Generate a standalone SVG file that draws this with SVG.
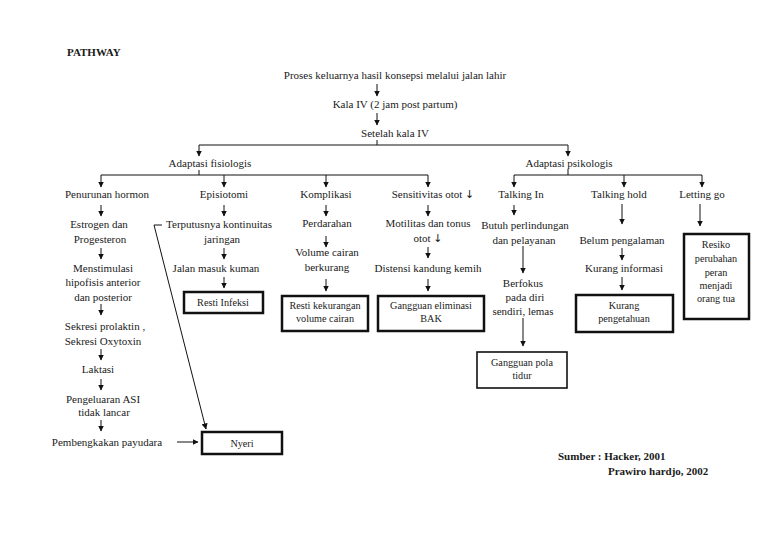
<svg xmlns="http://www.w3.org/2000/svg" width="768" height="543" viewBox="0 0 768 543">
<style>
text{font-family:"Liberation Serif","Times New Roman",serif;font-size:11px;fill:#1a1a1a;text-anchor:middle}
.b{font-weight:bold;text-anchor:start}
.s{font-size:10.2px}
.dn{font-family:"DejaVu Sans",sans-serif;font-size:11px}
.ln{stroke:#111;stroke-width:1;fill:none}
.ar{stroke:#111;stroke-width:1;fill:none;marker-end:url(#ah)}
.bx{fill:#fff;stroke:#111;stroke-width:2.5}
.bt{fill:#fff;stroke:#111;stroke-width:1.6}
</style>
<defs>
<marker id="ah" markerUnits="userSpaceOnUse" markerWidth="6" markerHeight="6" refX="5.5" refY="3" orient="auto">
<path d="M0,0 L6,3 L0,6 z" fill="#111"/>
</marker>
</defs>
<rect width="768" height="543" fill="#fff"/>
<text class="b" x="67" y="56">PATHWAY</text>
<g id="connectors">
<line class="ar" x1="377" y1="84" x2="377" y2="96"/>
<line class="ar" x1="377" y1="113" x2="377" y2="125"/>
<line class="ln" x1="377" y1="140" x2="377" y2="145"/>
<line class="ln" x1="199" y1="145" x2="568" y2="145"/>
<line class="ar" x1="199" y1="145" x2="199" y2="156"/>
<line class="ar" x1="568" y1="145" x2="568" y2="156"/>
<line class="ln" x1="199" y1="170" x2="199" y2="175"/>
<line class="ln" x1="101" y1="175" x2="428" y2="175"/>
<line class="ar" x1="101" y1="175" x2="101" y2="187"/>
<line class="ar" x1="224" y1="175" x2="224" y2="187"/>
<line class="ar" x1="326" y1="175" x2="326" y2="187"/>
<line class="ar" x1="428" y1="175" x2="428" y2="187"/>
<line class="ln" x1="568" y1="169" x2="568" y2="175"/>
<line class="ln" x1="514" y1="175" x2="702" y2="175"/>
<line class="ar" x1="514" y1="175" x2="514" y2="187"/>
<line class="ar" x1="624" y1="175" x2="624" y2="187"/>
<line class="ar" x1="702" y1="175" x2="702" y2="187"/>
<line class="ar" x1="101" y1="205" x2="101" y2="216"/>
<line class="ar" x1="101" y1="248" x2="101" y2="259"/>
<line class="ar" x1="101" y1="304" x2="101" y2="315"/>
<line class="ar" x1="101" y1="349" x2="101" y2="360"/>
<line class="ar" x1="101" y1="379" x2="101" y2="390"/>
<line class="ar" x1="101" y1="420" x2="101" y2="431"/>
<line class="ar" x1="177" y1="442" x2="198" y2="442"/>
<line class="ar" x1="224" y1="205" x2="224" y2="216"/>
<line class="ar" x1="224" y1="248" x2="224" y2="259"/>
<line class="ar" x1="224" y1="277" x2="224" y2="288"/>
<line class="ln" x1="154" y1="225" x2="162" y2="225"/>
<line class="ar" x1="154" y1="225" x2="206" y2="429"/>
<line class="ar" x1="326" y1="205" x2="326" y2="216"/>
<line class="ar" x1="326" y1="236" x2="326" y2="247"/>
<line class="ar" x1="326" y1="279" x2="326" y2="291"/>
<line class="ar" x1="428" y1="205" x2="428" y2="216"/>
<line class="ar" x1="428" y1="247" x2="428" y2="258"/>
<line class="ar" x1="428" y1="279" x2="428" y2="291"/>
<line class="ar" x1="514" y1="205" x2="514" y2="215"/>
<line class="ar" x1="523" y1="246" x2="523" y2="273"/>
<line class="ar" x1="523" y1="318" x2="523" y2="346"/>
<line class="ar" x1="622" y1="204" x2="622" y2="224"/>
<line class="ar" x1="622" y1="248" x2="622" y2="260"/>
<line class="ar" x1="622" y1="277" x2="622" y2="290"/>
<line class="ar" x1="700" y1="204" x2="700" y2="226"/>
</g>
<g id="n-proses"><text x="395" y="79">Proses keluarnya hasil konsepsi melalui jalan lahir</text></g>
<g id="n-kala"><text x="395" y="108">Kala IV (2 jam post partum)</text></g>
<g id="n-setelah"><text x="395" y="137">Setelah kala IV</text></g>
<g id="n-fisio"><text x="210" y="167">Adaptasi fisiologis</text></g>
<g id="n-psiko"><text x="569" y="167">Adaptasi psikologis</text></g>
<g id="n-penurunan"><text x="107" y="198">Penurunan hormon</text></g>
<g id="n-episiotomi"><text x="224" y="198">Episiotomi</text></g>
<g id="n-komplikasi"><text x="326" y="198">Komplikasi</text></g>
<g id="n-sensitivitas"><text x="433" y="198">Sensitivitas otot <tspan class="dn">↓</tspan></text></g>
<g id="n-talkingin"><text x="521" y="198">Talking In</text></g>
<g id="n-talkinghold"><text x="619" y="198">Talking hold</text></g>
<g id="n-lettinggo"><text x="702" y="198">Letting go</text></g>
<g id="n-estrogen"><text x="99" y="228">Estrogen dan</text><text x="100" y="243">Progesteron</text></g>
<g id="n-menstimulasi"><text x="103" y="272">Menstimulasi</text><text x="103" y="286">hipofisis anterior</text><text x="103" y="301">dan posterior</text></g>
<g id="n-sekresi"><text x="105" y="330">Sekresi prolaktin ,</text><text x="103" y="345">Sekresi Oxytoxin</text></g>
<g id="n-laktasi"><text x="98" y="373">Laktasi</text></g>
<g id="n-pengeluaran"><text x="103" y="403">Pengeluaran ASI</text><text x="104" y="416">tidak lancar</text></g>
<g id="n-pembengkakan"><text x="107" y="446">Pembengkakan payudara</text></g>
<g id="n-nyeri"><rect class="bx" x="202" y="432" width="80" height="22"/><text class="s" x="242" y="447">Nyeri</text></g>
<g id="n-terputus"><text x="219" y="228">Terputusnya kontinuitas</text><text x="222" y="243">jaringan</text></g>
<g id="n-jalan"><text x="216" y="272">Jalan masuk kuman</text></g>
<g id="n-resti-infeksi"><rect class="bx" x="184" y="292" width="79" height="21"/><text class="s" x="223" y="306">Resti Infeksi</text></g>
<g id="n-perdarahan"><text x="327" y="227">Perdarahan</text></g>
<g id="n-volume"><text x="327" y="256">Volume cairan</text><text x="327" y="271">berkurang</text></g>
<g id="n-resti-vol"><rect class="bx" x="282" y="296" width="86" height="35"/><text class="s" x="325" y="309">Resti kekurangan</text><text class="s" x="325" y="322">volume cairan</text></g>
<g id="n-motilitas"><text x="428" y="227">Motilitas dan tonus</text><text x="428" y="242">otot <tspan class="dn">↓</tspan></text></g>
<g id="n-distensi"><text x="428" y="272">Distensi kandung kemih</text></g>
<g id="n-eliminasi"><rect class="bx" x="378" y="296" width="106" height="35"/><text class="s" x="431" y="309">Gangguan eliminasi</text><text class="s" x="431" y="322">BAK</text></g>
<g id="n-butuh"><text x="525" y="229">Butuh perlindungan</text><text x="524" y="244">dan pelayanan</text></g>
<g id="n-berfokus"><text x="523" y="287">Berfokus</text><text x="525" y="301">pada diri</text><text x="523" y="315">sendiri, lemas</text></g>
<g id="n-pola"><rect class="bt" x="477" y="352" width="90" height="36"/><text class="s" x="522" y="366">Gangguan pola</text><text class="s" x="522" y="379">tidur</text></g>
<g id="n-belum"><text x="622" y="244">Belum pengalaman</text></g>
<g id="n-kurang-info"><text x="624" y="272">Kurang informasi</text></g>
<g id="n-kurang-peng"><rect class="bx" x="576" y="295" width="97" height="37"/><text class="s" x="624" y="309">Kurang</text><text class="s" x="624" y="322">pengetahuan</text></g>
<g id="n-resiko"><rect class="bx" x="684" y="234" width="65" height="85"/><text class="s" x="716" y="248">Resiko</text><text class="s" x="716" y="262">perubahan</text><text class="s" x="716" y="276">peran</text><text class="s" x="716" y="289">menjadi</text><text class="s" x="716" y="302">orang tua</text></g>
<g id="sumber"><text class="b" x="558" y="460">Sumber : Hacker, 2001</text><text class="b" x="608" y="475">Prawiro hardjo, 2002</text></g>
</svg>
